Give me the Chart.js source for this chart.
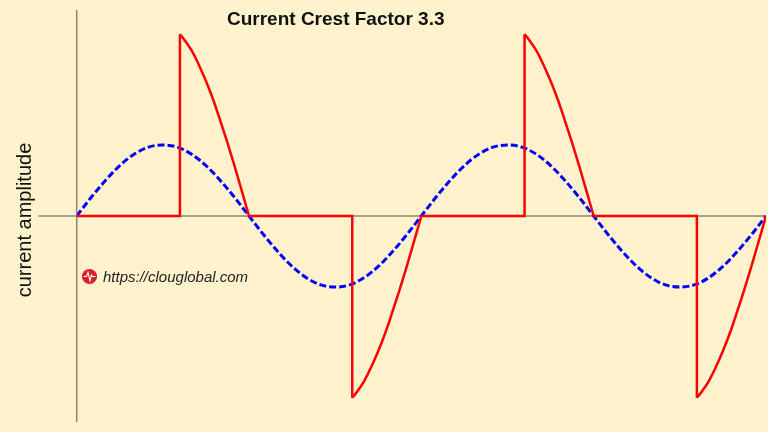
<!DOCTYPE html>
<html>
<head>
<meta charset="utf-8">
<script src="https://cdn.jsdelivr.net/npm/chart.js@4/dist/chart.umd.min.js"></script>
<style>
  html, body { margin: 0; padding: 0; background: #FFF2CC; }
  #wrap { width: 768px; height: 432px; position: relative; }
</style>
</head>
<body>
<div id="wrap"><canvas id="c"></canvas></div>
<script>
// Phase angle in degrees (two full cycles)
const sineX = [0,15,30,45,60,75,90,105,120,135,150,165,180,195,210,225,240,255,270,285,300,315,330,345,360,
               375,390,405,420,435,450,465,480,495,510,525,540,555,570,585,600,615,630,645,660,675,690,705,720];
const sineY = [0,0.26,0.5,0.71,0.87,0.97,1,0.97,0.87,0.71,0.5,0.26,0,-0.26,-0.5,-0.71,-0.87,-0.97,-1,-0.97,-0.87,-0.71,-0.5,-0.26,0,
               0.26,0.5,0.71,0.87,0.97,1,0.97,0.87,0.71,0.5,0.26,0,-0.26,-0.5,-0.71,-0.87,-0.97,-1,-0.97,-0.87,-0.71,-0.5,-0.26,0];

// Red pulsed current: flat parts and vertical jumps
const pulseFlatX = [0,107.8,107.8, 150, 180,287.8,287.8, 330, 360,467.8,467.8, 510, 540,647.8,647.8];
const pulseFlatY = [0,0,2.56, null, 0,0,-2.56, null, 0,0,2.56, null, 0,0,-2.56];

// Red pulsed current: decaying curved parts
const pulseCurveX = [107.8,112.5,120,127.5,135,142.5,150,157.5,165,172.5,180, 200,
                     287.8,292.5,300,307.5,315,322.5,330,337.5,345,352.5,360, 400,
                     467.8,472.5,480,487.5,495,502.5,510,517.5,525,532.5,540, 600,
                     647.8,652.5,660,667.5,675,682.5,690,697.5,705,712.5,720];
const pulseCurveY = [2.56,2.48,2.33,2.13,1.90,1.64,1.34,1.03,0.70,0.35,0, null,
                     -2.56,-2.48,-2.33,-2.13,-1.90,-1.64,-1.34,-1.03,-0.70,-0.35,0, null,
                     2.56,2.48,2.33,2.13,1.90,1.64,1.34,1.03,0.70,0.35,0, null,
                     -2.56,-2.48,-2.33,-2.13,-1.90,-1.64,-1.34,-1.03,-0.70,-0.35,0];

const titleText = 'Current Crest Factor 3.3';
const yLabel = 'current amplitude';
const watermark = 'https://clouglobal.com';

const toPts = (xs, ys) => xs.map((x, i) => ({x: x, y: ys[i]}));

const decor = {
  id: 'decor',
  beforeDraw(chart) {
    const ctx = chart.ctx;
    ctx.save();
    ctx.fillStyle = '#FFF2CC';
    ctx.fillRect(0, 0, chart.width, chart.height);
    ctx.restore();
  },
  beforeDatasetsDraw(chart) {
    const ctx = chart.ctx, xs = chart.scales.x, ys = chart.scales.y;
    const x0 = xs.getPixelForValue(0), y0 = ys.getPixelForValue(0);
    ctx.save();
    ctx.strokeStyle = '#8a8672';
    ctx.lineWidth = 1.5;
    ctx.beginPath();
    ctx.moveTo(xs.getPixelForValue(-40), y0);
    ctx.lineTo(xs.getPixelForValue(720), y0);
    ctx.moveTo(x0, ys.getPixelForValue(ys.max));
    ctx.lineTo(x0, ys.getPixelForValue(ys.min));
    ctx.stroke();

    // title
    ctx.fillStyle = '#111';
    ctx.font = 'bold 19px "Liberation Sans", Arial, sans-serif';
    ctx.textAlign = 'left';
    ctx.textBaseline = 'alphabetic';
    ctx.fillText(titleText, 227, 25);

    // y label
    ctx.save();
    ctx.translate(31, 220);
    ctx.rotate(-Math.PI / 2);
    ctx.font = '20px "Liberation Sans", Arial, sans-serif';
    ctx.textAlign = 'center';
    ctx.fillStyle = '#111';
    ctx.fillText(yLabel, 0, 0);
    ctx.restore();

    // watermark icon
    const cx = 89.5, cy = 276.5;
    ctx.fillStyle = '#d9202c';
    ctx.beginPath();
    ctx.arc(cx, cy, 7.6, 0, Math.PI * 2);
    ctx.fill();
    ctx.strokeStyle = '#ffffff';
    ctx.lineWidth = 1.1;
    ctx.beginPath();
    ctx.moveTo(cx - 6, cy);
    ctx.lineTo(cx - 3, cy);
    ctx.lineTo(cx - 1.5, cy - 4);
    ctx.lineTo(cx + 0.5, cy + 4);
    ctx.lineTo(cx + 2, cy - 1.5);
    ctx.lineTo(cx + 3, cy);
    ctx.lineTo(cx + 6, cy);
    ctx.stroke();

    ctx.fillStyle = '#222';
    ctx.font = 'italic 15px "Liberation Sans", Arial, sans-serif';
    ctx.textAlign = 'left';
    ctx.fillText(watermark, 103, 281.5);
    ctx.restore();
  }
};

new Chart(document.getElementById('c'), {
  type: 'line',
  data: {
    datasets: [
      {
        label: 'sine',
        data: toPts(sineX, sineY),
        borderColor: '#0000ff',
        borderWidth: 3,
        borderDash: [7, 3],
        pointRadius: 0,
        cubicInterpolationMode: 'monotone',
        fill: false,
        order: 3
      },
      {
        label: 'pulse flat',
        data: toPts(pulseFlatX, pulseFlatY),
        borderColor: '#ff0000',
        borderWidth: 2.5,
        pointRadius: 0,
        tension: 0,
        spanGaps: false,
        fill: false,
        order: 2
      },
      {
        label: 'pulse curve',
        data: toPts(pulseCurveX, pulseCurveY),
        borderColor: '#ff0000',
        borderWidth: 2.5,
        pointRadius: 0,
        cubicInterpolationMode: 'monotone',
        spanGaps: false,
        fill: false,
        order: 1
      }
    ]
  },
  options: {
    responsive: true,
    maintainAspectRatio: false,
    animation: false,
    layout: { padding: { left: 76.7, right: 2, top: 10, bottom: 10 } },
    plugins: { legend: { display: false }, title: { display: false }, tooltip: { enabled: false } },
    scales: {
      x: { type: 'linear', min: 0, max: 720, display: false },
      y: { type: 'linear', min: -2.9, max: 2.9, display: false }
    }
  },
  plugins: [decor]
});
</script>
</body>
</html>
